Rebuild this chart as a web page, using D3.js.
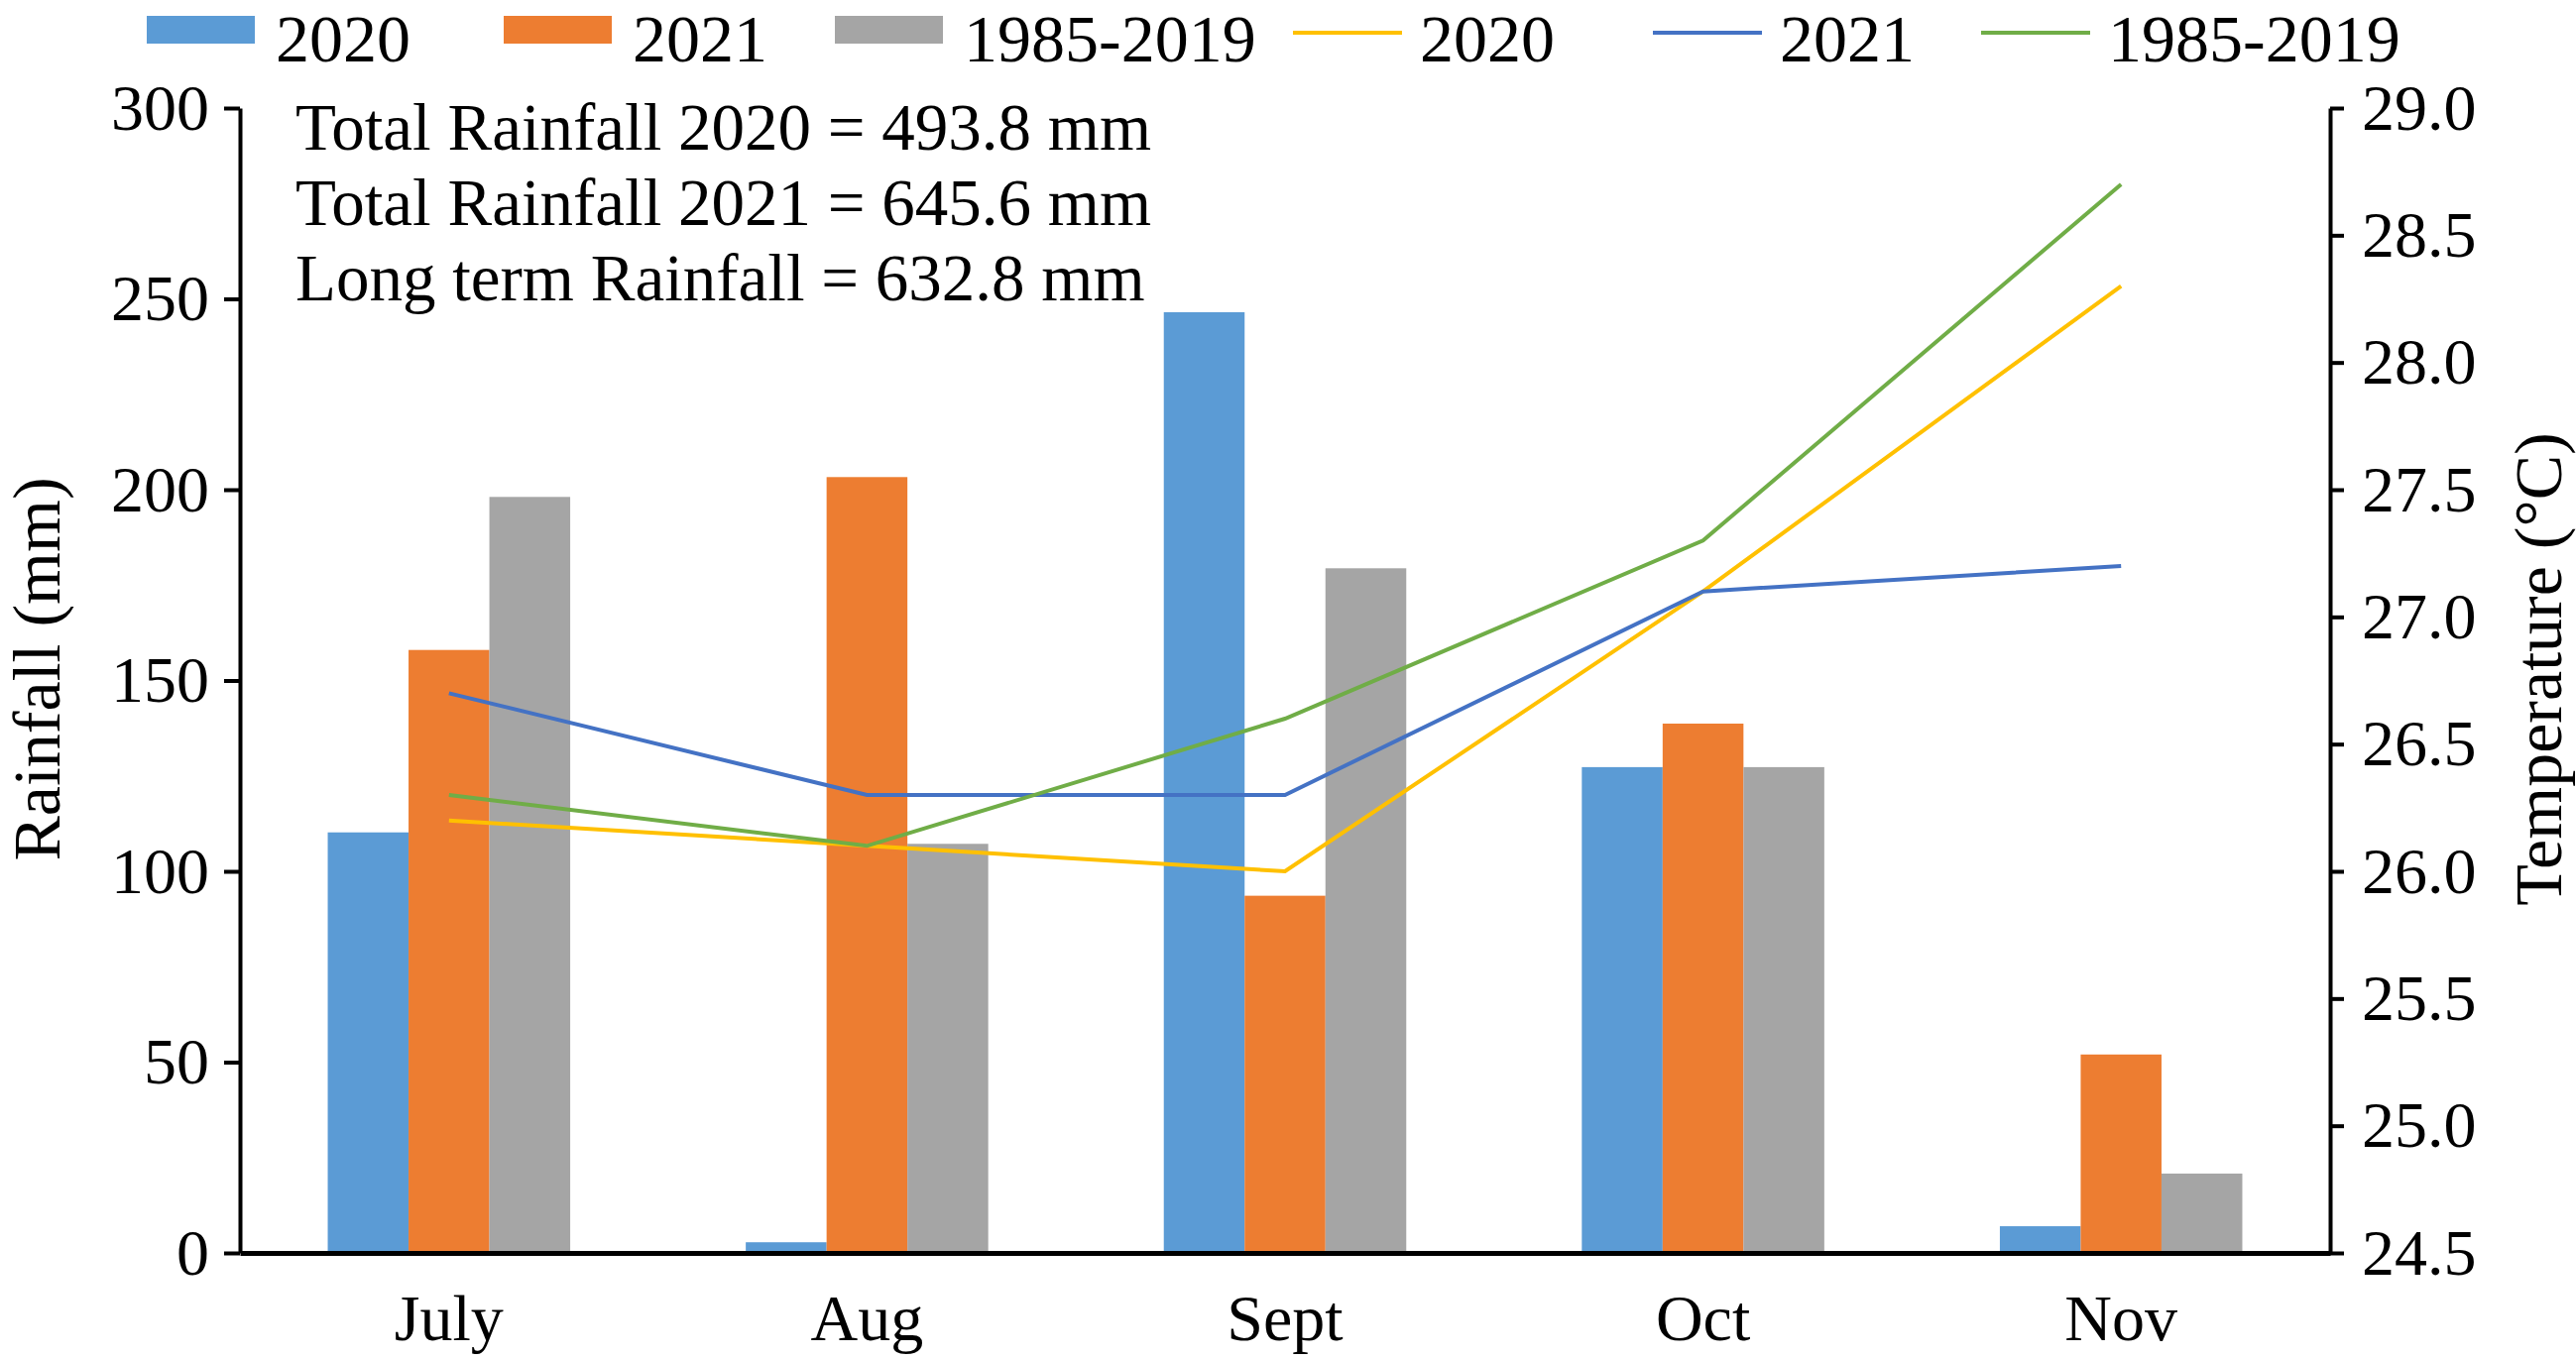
<!DOCTYPE html>
<html>
<head>
<meta charset="utf-8">
<script src="https://cdn.jsdelivr.net/npm/d3@7"></script>
<style>
  html, body { margin: 0; padding: 0; background: #fff; }
  svg { display: block; font-family: "Liberation Serif", "Times New Roman", serif; }
</style>
</head>
<body>
<div id="chart"></div>
<script>
// months on the x axis
const months = ['July', 'Aug', 'Sept', 'Oct', 'Nov']

// rainfall (mm), bars
const rain2020 = [110.2, 2.8, 246.5, 127.3, 7.0]
const rain2021 = [158.0, 203.3, 93.6, 138.7, 52.0]
const rainLongTerm = [198.1, 107.2, 179.4, 127.3, 20.8]

// temperature (°C), lines
const temp2020 = [26.2, 26.1, 26.0, 27.1, 28.3]
const temp2021 = [26.7, 26.3, 26.3, 27.1, 27.2]
const tempLongTerm = [26.3, 26.1, 26.6, 27.3, 28.7]

const rainTicks = [0, 50, 100, 150, 200, 250, 300]
const tempTicks = [24.5, 25.0, 25.5, 26.0, 26.5, 27.0, 27.5, 28.0, 28.5, 29.0]

const notes = [
  'Total Rainfall 2020 = 493.8 mm',
  'Total Rainfall 2021 = 645.6 mm',
  'Long term Rainfall = 632.8 mm'
]

const barSeries = [
  { name: '2020', values: rain2020, color: '#5B9BD5' },
  { name: '2021', values: rain2021, color: '#ED7D31' },
  { name: '1985-2019', values: rainLongTerm, color: '#A5A5A5' }
]
const lineSeries = [
  { name: '2020', values: temp2020, color: '#FFC000' },
  { name: '2021', values: temp2021, color: '#4472C4' },
  { name: '1985-2019', values: tempLongTerm, color: '#70AD47' }
]

const W = 2598, H = 1371
const plot = { left: 242, right: 2350, top: 109, bottom: 1264 }
const fontSize = 66
const serif = '"Liberation Serif", "Times New Roman", serif'

const svg = d3.select('#chart').append('svg')
  .attr('width', W).attr('height', H)
  .attr('viewBox', `0 0 ${W} ${H}`)

const x0 = d3.scaleBand().domain(months).range([plot.left, plot.right]).padding(0)
const groupW = x0.bandwidth() * 0.58
const x1 = d3.scaleBand().domain(barSeries.map(s => s.name))
  .range([(x0.bandwidth() - groupW) / 2, (x0.bandwidth() + groupW) / 2])
const yRain = d3.scaleLinear().domain([0, 300]).range([plot.bottom, plot.top])
const yTemp = d3.scaleLinear().domain([24.5, 29]).range([plot.bottom, plot.top])

// Bars
const groups = svg.append('g').selectAll('g')
  .data(months)
  .join('g')
  .attr('transform', d => `translate(${x0(d)},0)`)

groups.selectAll('rect')
  .data((m, i) => barSeries.map(s => ({ name: s.name, color: s.color, v: s.values[i] })))
  .join('rect')
  .attr('x', d => x1(d.name))
  .attr('width', x1.bandwidth())
  .attr('y', d => yRain(d.v))
  .attr('height', d => yRain(0) - yRain(d.v))
  .attr('fill', d => d.color)

// Temperature lines
const line = d3.line()
  .x((d, i) => x0(months[i]) + x0.bandwidth() / 2)
  .y(d => yTemp(d))

lineSeries.forEach(s => {
  svg.append('path')
    .datum(s.values)
    .attr('d', line)
    .attr('fill', 'none')
    .attr('stroke', s.color)
    .attr('stroke-width', 4)
})

// Axes
function styleAxis(g, sw) {
  g.selectAll('path, line').attr('stroke', '#000').attr('stroke-width', sw)
  g.selectAll('text').attr('fill', '#000').style('font-size', `${fontSize}px`)
    .style('font-family', serif)
}

svg.append('g')
  .attr('transform', `translate(${plot.left},0)`)
  .call(d3.axisLeft(yRain).tickValues(rainTicks).tickSize(16).tickSizeOuter(0).tickPadding(15))
  .call(g => styleAxis(g, 4))

svg.append('g')
  .attr('transform', `translate(${plot.right},0)`)
  .call(d3.axisRight(yTemp).tickValues(tempTicks).tickFormat(d3.format('.1f'))
    .tickSize(14).tickSizeOuter(0).tickPadding(18))
  .call(g => styleAxis(g, 4))

svg.append('g')
  .attr('transform', `translate(0,${plot.bottom})`)
  .call(d3.axisBottom(x0).tickSize(0).tickPadding(41))
  .call(g => styleAxis(g, 5))

// Axis titles
svg.append('text')
  .attr('transform', `translate(60,675) rotate(-90)`)
  .attr('text-anchor', 'middle')
  .style('font-size', '68px')
  .text('Rainfall (mm)')

svg.append('text')
  .attr('transform', `translate(2583,675) rotate(-90)`)
  .attr('text-anchor', 'middle')
  .style('font-size', '68px')
  .text('Temperature (°C)')

// Rainfall totals
svg.append('g').selectAll('text')
  .data(notes)
  .join('text')
  .attr('x', 298)
  .attr('y', (d, i) => 151 + i * 76)
  .style('font-size', '67px')
  .text(d => d)

// Legend
const legendBars = [148, 508, 842]
const legendLines = [1304, 1667, 1998]

barSeries.forEach((s, i) => {
  svg.append('rect')
    .attr('x', legendBars[i]).attr('y', 16)
    .attr('width', 109).attr('height', 28)
    .attr('fill', s.color)
  svg.append('text')
    .attr('x', legendBars[i] + 130).attr('y', 62)
    .style('font-size', '68px')
    .text(s.name)
})

lineSeries.forEach((s, i) => {
  svg.append('line')
    .attr('x1', legendLines[i]).attr('x2', legendLines[i] + 110)
    .attr('y1', 33).attr('y2', 33)
    .attr('stroke', s.color).attr('stroke-width', 4)
  svg.append('text')
    .attr('x', legendLines[i] + 128).attr('y', 62)
    .style('font-size', '68px')
    .text(s.name)
})
</script>
</body>
</html>
